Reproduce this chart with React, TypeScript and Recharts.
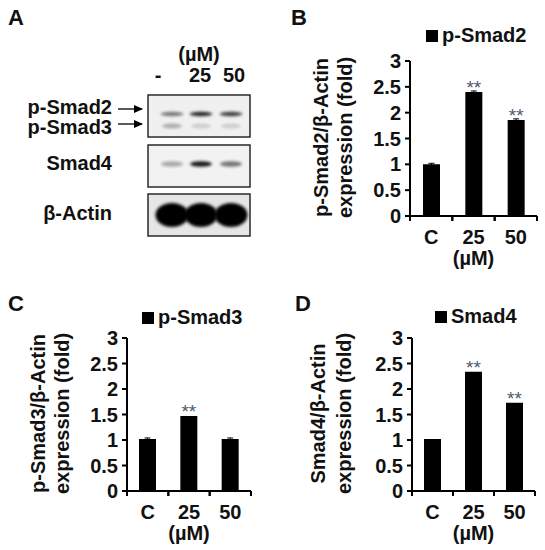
import React from "react";
import { BarChart, Bar, XAxis, YAxis, Legend, LabelList, ErrorBar } from "recharts";

const categories = ["C", "25", "50"];
const yTicks = [0, 0.5, 1, 1.5, 2, 2.5, 3];
const pSmad2Values = [1, 2.4, 1.86];
const pSmad2Errors = [0.02, 0.02, 0.02];
const pSmad2Stars = ["", "**", "**"];
const pSmad3Values = [1.02, 1.47, 1.02];
const pSmad3Errors = [0.02, 0, 0.02];
const pSmad3Stars = ["", "**", ""];
const smad4Values = [1.02, 2.34, 1.73];
const smad4Errors = [0, 0, 0];
const smad4Stars = ["", "**", "**"];
const laneLabels = ["-", "25", "50"];
const pSmad2Bands = [0.5, 0.85, 0.75];
const pSmad3Bands = [0.28, 0.14, 0.14];
const smad4Bands = [0.3, 0.9, 0.52];
const actinBands = [1, 1, 1];

const FONT = "'Liberation Sans', Arial, sans-serif";
const FS = 20;
const INK = "#111";

const build = (values: number[], errors: number[], stars: string[]) =>
  categories.map((c, i) => ({ c, v: values[i], e: errors[i], s: stars[i] }));

function XTick({ x, y, payload, step }: any) {
  return (
    <g>
      <line x1={x - step / 2} x2={x - step / 2} y1={y - 8} y2={y - 3} stroke="#000" strokeWidth={2} />
      <line x1={x + step / 2} x2={x + step / 2} y1={y - 8} y2={y - 3} stroke="#000" strokeWidth={2} />
      <text x={x} y={y + 20} textAnchor="middle" fontFamily={FONT} fontWeight={700} fontSize={FS} fill={INK}>
        {payload.value}
      </text>
    </g>
  );
}

function YTick({ x, y, payload }: any) {
  return (
    <text x={x} y={y + 7} textAnchor="end" fontFamily={FONT} fontWeight={700} fontSize={FS} fill={INK}>
      {payload.value}
    </text>
  );
}

function Panel({ name, yLabel, data, left, top, axisX, axisEnd, plotTop, plotBottom, labelX1, labelX2, legendX, legendY }: any) {
  const width = 272;
  const height = 275;
  const step = (axisEnd - axisX) / 3;
  const cy = plotTop + (plotBottom - plotTop) / 2 - 1;
  return (
    <div style={{ position: "absolute", left, top, width, height }}>
      <BarChart
        width={width}
        height={height}
        data={data}
        margin={{ top: plotTop, right: width - axisEnd, bottom: 0, left: 0 }}
        barCategoryGap={0}
      >
        <Legend
          layout="horizontal"
          verticalAlign="middle"
          wrapperStyle={{ position: "absolute", left: legendX, top: legendY, width: 130, height: 20, bottom: "auto" }}
          content={() => (
            <div style={{ display: "flex", alignItems: "center", fontFamily: FONT, fontWeight: 700, fontSize: FS, color: INK, whiteSpace: "nowrap" }}>
              <span style={{ display: "inline-block", width: 12, height: 12, background: "#000", marginRight: 4 }} />
              {name}
            </div>
          )}
        />
        <XAxis
          dataKey="c"
          height={height - plotBottom}
          axisLine={{ stroke: "#000", strokeWidth: 2 }}
          tickLine={false}
          interval={0}
          tick={<XTick step={step} />}
          label={(p: any) => {
            const vb = p.viewBox;
            return (
              <text x={vb.x + vb.width / 2} y={vb.y + 49} textAnchor="middle" fontFamily={FONT} fontWeight={700} fontSize={FS} fill={INK}>
                (µM)
              </text>
            );
          }}
        />
        <YAxis
          width={axisX}
          domain={[0, 3]}
          ticks={yTicks}
          interval={0}
          axisLine={{ stroke: "#000", strokeWidth: 2 }}
          tickLine={{ stroke: "#000", strokeWidth: 2 }}
          tickSize={5}
          tickMargin={4}
          tick={<YTick />}
          label={() => (
            <g fontFamily={FONT} fontWeight={700} fontSize={FS} fill={INK} textAnchor="middle">
              <text transform={`translate(${labelX1},${cy}) rotate(-90)`}>{yLabel}</text>
              <text transform={`translate(${labelX2},${cy}) rotate(-90)`}>expression (fold)</text>
            </g>
          )}
        />
        <Bar dataKey="v" name={name} fill="#000" barSize={17} isAnimationActive={false}>
          <ErrorBar dataKey="e" width={3} stroke="#000" strokeWidth={1} direction="y" />
          <LabelList
            dataKey="s"
            position="top"
            offset={-2}
            fill="#4f5a6c"
            fontFamily={FONT}
            fontSize={19}
            fontWeight={400}
          />
        </Bar>
      </BarChart>
    </div>
  );
}

function Strip({ id, y, height, rows, bg }: any) {
  const x0 = 148;
  const w = 102;
  const lanes = [172, 201, 231];
  return (
    <g>
      <clipPath id={id}>
        <rect x={x0} y={y} width={w} height={height} />
      </clipPath>
      <rect x={x0} y={y} width={w} height={height} fill={bg} />
      <g clipPath={`url(#${id})`}>
        {rows.map((row: any, r: number) =>
          row.vals.map((v: number, i: number) => (
            <ellipse
              key={`${r}-${i}`}
              cx={lanes[i]}
              cy={y + row.dy}
              rx={row.rx}
              ry={row.ry}
              fill="#000"
              opacity={v}
              filter="url(#blur)"
            />
          ))
        )}
      </g>
      <rect x={x0} y={y} width={w} height={height} fill="none" stroke="#2a2a2a" strokeWidth={1.5} />
    </g>
  );
}

function Blot() {
  const label = { fontFamily: FONT, fontWeight: 700, fontSize: FS, fill: INK } as any;
  return (
    <svg width={270} height={270} style={{ position: "absolute", left: 0, top: 0 }}>
      <defs>
        <filter id="blur" x="-40%" y="-100%" width="180%" height="300%">
          <feGaussianBlur stdDeviation="1.5" />
        </filter>
        <marker id="arrow" markerWidth="10" markerHeight="10" refX="8" refY="4" orient="auto" markerUnits="userSpaceOnUse">
          <path d="M0,0 L9,4 L0,8 Z" fill="#000" />
        </marker>
      </defs>
      <Strip id="s1" y={95} height={42} bg="#f0f0f0" rows={[
        { dy: 19, rx: 11.5, ry: 2.2, vals: pSmad2Bands },
        { dy: 31, rx: 10, ry: 2.4, vals: pSmad3Bands },
      ]} />
      <Strip id="s2" y={145} height={42} bg="#f2f2f2" rows={[{ dy: 19, rx: 11, ry: 2.8, vals: smad4Bands }]} />
      <Strip id="s3" y={194} height={42} bg="#e6e6e6" rows={[{ dy: 21, rx: 16.5, ry: 12, vals: actinBands }]} />
      <text x={8} y={25} fontFamily={FONT} fontWeight={700} fontSize={22} fill={INK}>A</text>
      <text {...label} x={199} y={61} textAnchor="middle">(µM)</text>
      <text {...label} x={158} y={82} textAnchor="middle">{laneLabels[0]}</text>
      <text {...label} x={200} y={82} textAnchor="middle">{laneLabels[1]}</text>
      <text {...label} x={234} y={82} textAnchor="middle">{laneLabels[2]}</text>
      <text {...label} x={112} y={114} textAnchor="end">p-Smad2</text>
      <text {...label} x={112} y={134} textAnchor="end">p-Smad3</text>
      <text {...label} x={112} y={170} textAnchor="end">Smad4</text>
      <text {...label} x={112} y={220} textAnchor="end">β-Actin</text>
      <line x1={118} x2={142} y1={109} y2={109} stroke="#000" strokeWidth={1.3} markerEnd="url(#arrow)" />
      <line x1={118} x2={142} y1={124} y2={124} stroke="#000" strokeWidth={1.3} markerEnd="url(#arrow)" />
    </svg>
  );
}

const Letter = ({ x, y, t }: any) => (
  <div style={{ position: "absolute", left: x, top: y, fontFamily: FONT, fontWeight: 700, fontSize: 22, lineHeight: "22px", color: INK }}>{t}</div>
);

export default function App() {
  return (
    <div style={{ position: "absolute", left: 0, top: 0, width: 545, height: 550, background: "#fff", overflow: "hidden" }}>
      <Blot />
      <Panel name="p-Smad2" yLabel="p-Smad2/β-Actin" data={build(pSmad2Values, pSmad2Errors, pSmad2Stars)}
        left={275} top={0} axisX={135} axisEnd={262} plotTop={61} plotBottom={216} labelX1={53} labelX2={77} legendX={151} legendY={24} />
      <Panel name="p-Smad3" yLabel="p-Smad3/β-Actin" data={build(pSmad3Values, pSmad3Errors, pSmad3Stars)}
        left={0} top={280} axisX={127} axisEnd={251} plotTop={58} plotBottom={211} labelX1={45} labelX2={69} legendX={142} legendY={26} />
      <Panel name="Smad4" yLabel="Smad4/β-Actin" data={build(smad4Values, smad4Errors, smad4Stars)}
        left={275} top={280} axisX={137} axisEnd={260} plotTop={58} plotBottom={211} labelX1={50} labelX2={76} legendX={160} legendY={25} />
      <Letter x={291} y={7} t="B" />
      <Letter x={8} y={293} t="C" />
      <Letter x={295} y={293} t="D" />
    </div>
  );
}
